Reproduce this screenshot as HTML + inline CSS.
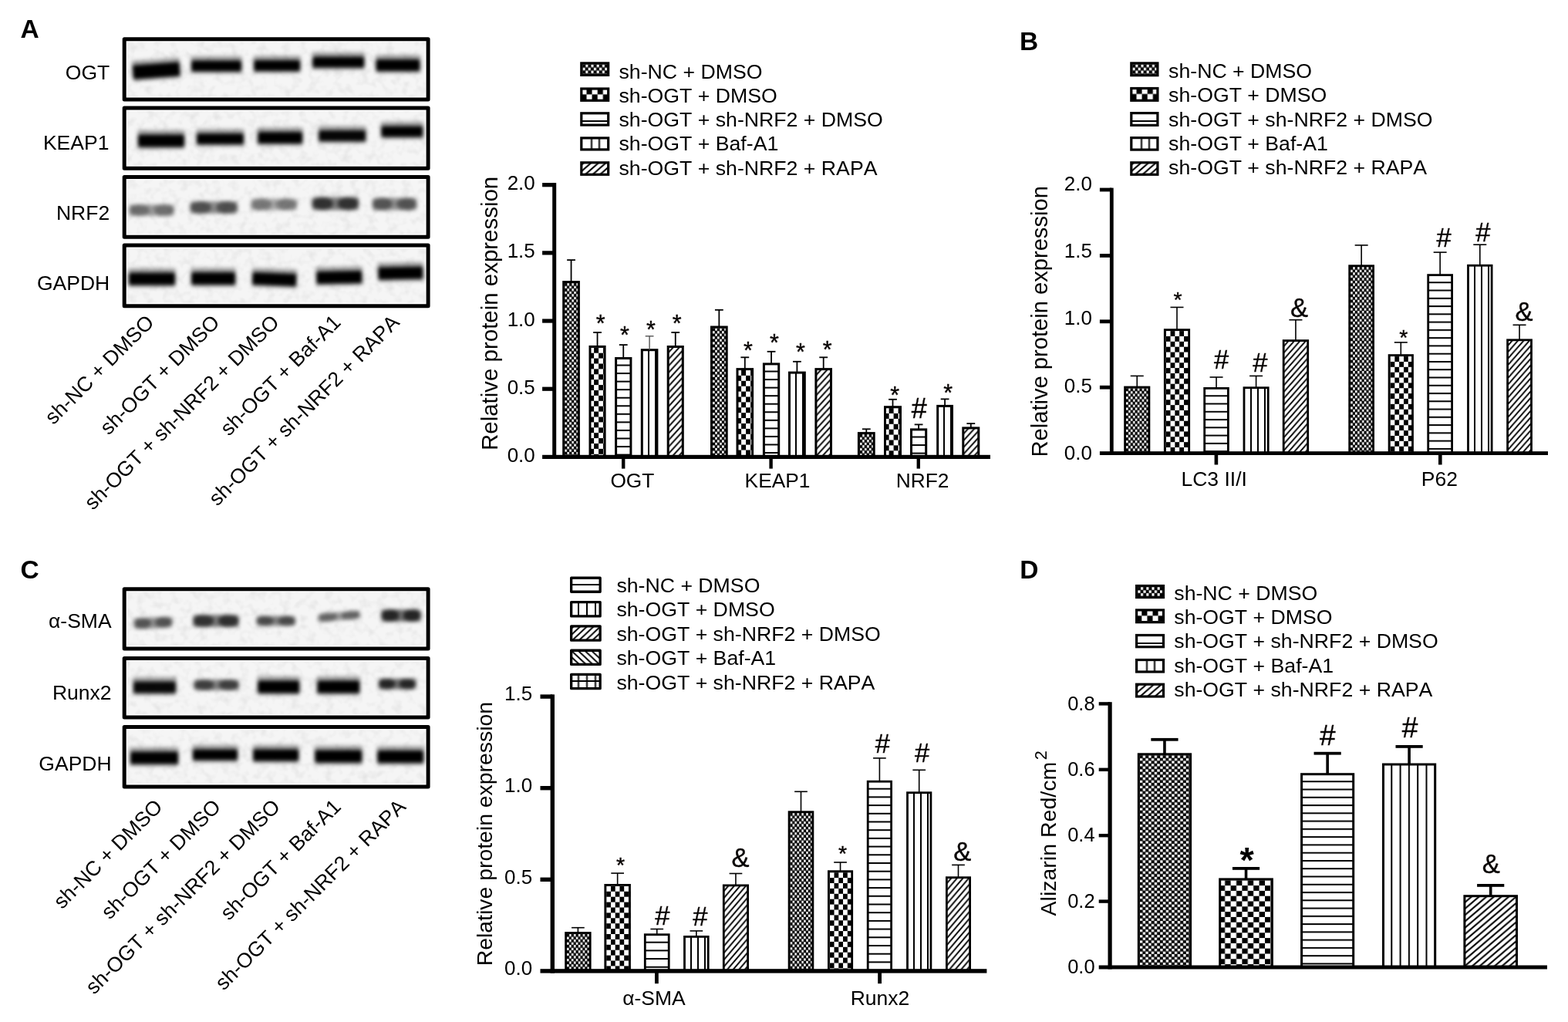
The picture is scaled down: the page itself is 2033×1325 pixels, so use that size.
<!DOCTYPE html>
<html lang="en"><head><meta charset="utf-8"><title>Figure</title>
<style>
html,body{margin:0;padding:0;background:#fff;}
body{width:2033px;height:1325px;overflow:hidden;}
svg{display:block;}
svg text{font-family:'Liberation Sans', Arial, Helvetica, sans-serif;fill:#000;font-kerning:none;}
</style></head><body>
<svg width="2033" height="1325" viewBox="0 0 2033 1325">
<defs>
<filter id="b1" x="-5%" y="-20%" width="110%" height="140%"><feGaussianBlur stdDeviation="2.8 2.6"/></filter>
<filter id="nz" x="0" y="0" width="100%" height="100%"><feTurbulence type="fractalNoise" baseFrequency="0.09" numOctaves="2" seed="7" result="t"/><feColorMatrix in="t" type="matrix" values="0 0 0 0 0  0 0 0 0 0  0 0 0 0 0  1.2 0 0 0 -0.52"/></filter>
<clipPath id="c1"><rect x="161.2" y="50.8" width="393.9" height="78.3"/></clipPath>
<clipPath id="c2"><rect x="161.2" y="140.1" width="393.9" height="78.2"/></clipPath>
<clipPath id="c3"><rect x="161.2" y="229.4" width="393.9" height="77.8"/></clipPath>
<clipPath id="c4"><rect x="161.2" y="318.1" width="393.9" height="78.6"/></clipPath>
<clipPath id="c5"><rect x="161.2" y="763.8" width="393.9" height="77.1"/></clipPath>
<clipPath id="c6"><rect x="161.2" y="853.4" width="393.9" height="76.5"/></clipPath>
<clipPath id="c7"><rect x="161.2" y="942.5" width="393.9" height="77.4"/></clipPath>
<pattern id="p8" patternUnits="userSpaceOnUse" width="6" height="7.06" patternTransform="translate(732.2 367.1)"><rect width="6" height="7.06" fill="#fff"/><rect x="-0.25" y="-0.25" width="3.5" height="4.03"/><rect x="2.75" y="3.28" width="3.5" height="4.03"/><rect x="5.75" y="-0.25" width="0.5" height="4.03"/><rect x="-0.25" y="6.81" width="3.5" height="0.5"/></pattern>
<pattern id="p9" patternUnits="userSpaceOnUse" width="12" height="13.8" patternTransform="translate(764.1 443.9)"><rect width="12" height="13.8" fill="#fff"/><rect x="0" y="0" width="6" height="6.9"/><rect x="6" y="6.9" width="6" height="6.9"/><rect x="12" y="0" width="0" height="6.9"/><rect x="0" y="13.8" width="6" height="0"/></pattern>
<pattern id="p10" patternUnits="userSpaceOnUse" width="8" height="10.55" patternTransform="translate(800 462)"><rect width="8" height="10.55" fill="#fff"/><rect x="0" y="0" width="8" height="2"/></pattern>
<pattern id="p11" patternUnits="userSpaceOnUse" width="9" height="8" patternTransform="translate(831 455)"><rect width="9" height="8" fill="#fff"/><rect x="0" y="0" width="2" height="8"/></pattern>
<pattern id="p12" patternUnits="userSpaceOnUse" width="8" height="8.75" patternTransform="translate(867.7 455.9)"><rect width="8" height="8.75" fill="#fff"/><path d="M-8,17.5 L16,-8.75 M-8,8.75 L8,-8.75 M0,17.5 L16,0" stroke="#000" stroke-width="1.9" fill="none"/></pattern>
<pattern id="p13" patternUnits="userSpaceOnUse" width="6" height="7.06" patternTransform="translate(924 425.5)"><rect width="6" height="7.06" fill="#fff"/><rect x="-0.25" y="-0.25" width="3.5" height="4.03"/><rect x="2.75" y="3.28" width="3.5" height="4.03"/><rect x="5.75" y="-0.25" width="0.5" height="4.03"/><rect x="-0.25" y="6.81" width="3.5" height="0.5"/></pattern>
<pattern id="p14" patternUnits="userSpaceOnUse" width="12" height="13.8" patternTransform="translate(955.1 473.1)"><rect width="12" height="13.8" fill="#fff"/><rect x="0" y="0" width="6" height="6.9"/><rect x="6" y="6.9" width="6" height="6.9"/><rect x="12" y="0" width="0" height="6.9"/><rect x="0" y="13.8" width="6" height="0"/></pattern>
<pattern id="p15" patternUnits="userSpaceOnUse" width="8" height="10.55" patternTransform="translate(992 470)"><rect width="8" height="10.55" fill="#fff"/><rect x="0" y="0" width="8" height="2"/></pattern>
<pattern id="p16" patternUnits="userSpaceOnUse" width="9" height="8" patternTransform="translate(1022 485)"><rect width="9" height="8" fill="#fff"/><rect x="0" y="0" width="2" height="8"/></pattern>
<pattern id="p17" patternUnits="userSpaceOnUse" width="8" height="8.75" patternTransform="translate(1059.4 485)"><rect width="8" height="8.75" fill="#fff"/><path d="M-8,17.5 L16,-8.75 M-8,8.75 L8,-8.75 M0,17.5 L16,0" stroke="#000" stroke-width="1.9" fill="none"/></pattern>
<pattern id="p18" patternUnits="userSpaceOnUse" width="6" height="7.06" patternTransform="translate(1114.9 563.1)"><rect width="6" height="7.06" fill="#fff"/><rect x="-0.25" y="-0.25" width="3.5" height="4.03"/><rect x="2.75" y="3.28" width="3.5" height="4.03"/><rect x="5.75" y="-0.25" width="0.5" height="4.03"/><rect x="-0.25" y="6.81" width="3.5" height="0.5"/></pattern>
<pattern id="p19" patternUnits="userSpaceOnUse" width="12" height="13.8" patternTransform="translate(1146.6 522.2)"><rect width="12" height="13.8" fill="#fff"/><rect x="0" y="0" width="6" height="6.9"/><rect x="6" y="6.9" width="6" height="6.9"/><rect x="12" y="0" width="0" height="6.9"/><rect x="0" y="13.8" width="6" height="0"/></pattern>
<pattern id="p20" patternUnits="userSpaceOnUse" width="8" height="10.55" patternTransform="translate(1183 555)"><rect width="8" height="10.55" fill="#fff"/><rect x="0" y="0" width="8" height="2"/></pattern>
<pattern id="p21" patternUnits="userSpaceOnUse" width="9" height="8" patternTransform="translate(1214 528)"><rect width="9" height="8" fill="#fff"/><rect x="0" y="0" width="2" height="8"/></pattern>
<pattern id="p22" patternUnits="userSpaceOnUse" width="8" height="8.75" patternTransform="translate(1250.3 561.3)"><rect width="8" height="8.75" fill="#fff"/><path d="M-8,17.5 L16,-8.75 M-8,8.75 L8,-8.75 M0,17.5 L16,0" stroke="#000" stroke-width="1.9" fill="none"/></pattern>
<pattern id="p23" patternUnits="userSpaceOnUse" width="7.2" height="8" patternTransform="translate(755.4 83.5)"><rect width="7.2" height="8" fill="#fff"/><rect x="-0.3" y="-0.3" width="4.2" height="4.6"/><rect x="3.3" y="3.7" width="4.2" height="4.6"/><rect x="6.9" y="-0.3" width="0.6" height="4.6"/><rect x="-0.3" y="7.7" width="4.2" height="0.6"/></pattern>
<pattern id="p24" patternUnits="userSpaceOnUse" width="14.2" height="14.2" patternTransform="translate(760.5 115.25)"><rect width="14.2" height="14.2" fill="#fff"/><rect x="0" y="0" width="7.1" height="7.1"/><rect x="7.1" y="7.1" width="7.1" height="7.1"/><rect x="14.2" y="0" width="0" height="7.1"/><rect x="0" y="14.2" width="7.1" height="0"/></pattern>
<pattern id="p25" patternUnits="userSpaceOnUse" width="8" height="14" patternTransform="translate(755 156)"><rect width="8" height="14" fill="#fff"/><rect x="0" y="0" width="8" height="2"/></pattern>
<pattern id="p26" patternUnits="userSpaceOnUse" width="60" height="10" patternTransform="translate(752.5 180)"><rect width="60" height="10" fill="#fff"/><rect x="13.5" y="0" width="2" height="10"/><rect x="23.5" y="0" width="2" height="10"/></pattern>
<pattern id="p27" patternUnits="userSpaceOnUse" width="9.6" height="8.4" patternTransform="translate(755.4 212.4)"><rect width="9.6" height="8.4" fill="#fff"/><path d="M-9.6,16.8 L19.2,-8.4 M-9.6,8.4 L9.6,-8.4 M0,16.8 L19.2,0" stroke="#000" stroke-width="2" fill="none"/></pattern>
<pattern id="p28" patternUnits="userSpaceOnUse" width="5.86" height="7.1" patternTransform="translate(1460 503.4)"><rect width="5.86" height="7.1" fill="#fff"/><rect x="-0.25" y="-0.25" width="3.43" height="4.05"/><rect x="2.68" y="3.3" width="3.43" height="4.05"/><rect x="5.61" y="-0.25" width="0.5" height="4.05"/><rect x="-0.25" y="6.85" width="3.43" height="0.5"/></pattern>
<pattern id="p29" patternUnits="userSpaceOnUse" width="11.66" height="13.72" patternTransform="translate(1511.7 422.24)"><rect width="11.66" height="13.72" fill="#fff"/><rect x="0" y="0" width="5.83" height="6.86"/><rect x="5.83" y="6.86" width="5.83" height="6.86"/><rect x="11.66" y="0" width="0" height="6.86"/><rect x="0" y="13.72" width="5.83" height="0"/></pattern>
<pattern id="p30" patternUnits="userSpaceOnUse" width="8" height="10.27" patternTransform="translate(1563 502)"><rect width="8" height="10.27" fill="#fff"/><rect x="0" y="0" width="8" height="2"/></pattern>
<pattern id="p31" patternUnits="userSpaceOnUse" width="9" height="8" patternTransform="translate(1612 504)"><rect width="9" height="8" fill="#fff"/><rect x="0" y="0" width="2" height="8"/></pattern>
<pattern id="p32" patternUnits="userSpaceOnUse" width="7.45" height="8.45" patternTransform="translate(1665.6 447.7)"><rect width="7.45" height="8.45" fill="#fff"/><path d="M-7.45,16.9 L14.9,-8.45 M-7.45,8.45 L7.45,-8.45 M0,16.9 L14.9,0" stroke="#000" stroke-width="1.9" fill="none"/></pattern>
<pattern id="p33" patternUnits="userSpaceOnUse" width="5.86" height="7.1" patternTransform="translate(1751.1 346.1)"><rect width="5.86" height="7.1" fill="#fff"/><rect x="-0.25" y="-0.25" width="3.43" height="4.05"/><rect x="2.68" y="3.3" width="3.43" height="4.05"/><rect x="5.61" y="-0.25" width="0.5" height="4.05"/><rect x="-0.25" y="6.85" width="3.43" height="0.5"/></pattern>
<pattern id="p34" patternUnits="userSpaceOnUse" width="11.66" height="13.72" patternTransform="translate(1802.5 455.24)"><rect width="11.66" height="13.72" fill="#fff"/><rect x="0" y="0" width="5.83" height="6.86"/><rect x="5.83" y="6.86" width="5.83" height="6.86"/><rect x="11.66" y="0" width="0" height="6.86"/><rect x="0" y="13.72" width="5.83" height="0"/></pattern>
<pattern id="p35" patternUnits="userSpaceOnUse" width="8" height="10.27" patternTransform="translate(1853 355)"><rect width="8" height="10.27" fill="#fff"/><rect x="0" y="0" width="8" height="2"/></pattern>
<pattern id="p36" patternUnits="userSpaceOnUse" width="9" height="8" patternTransform="translate(1902 346)"><rect width="9" height="8" fill="#fff"/><rect x="0" y="0" width="2" height="8"/></pattern>
<pattern id="p37" patternUnits="userSpaceOnUse" width="7.45" height="8.45" patternTransform="translate(1956 446.9)"><rect width="7.45" height="8.45" fill="#fff"/><path d="M-7.45,16.9 L14.9,-8.45 M-7.45,8.45 L7.45,-8.45 M0,16.9 L14.9,0" stroke="#000" stroke-width="1.9" fill="none"/></pattern>
<pattern id="p38" patternUnits="userSpaceOnUse" width="7.2" height="8" patternTransform="translate(1468.4 83.5)"><rect width="7.2" height="8" fill="#fff"/><rect x="-0.3" y="-0.3" width="4.2" height="4.6"/><rect x="3.3" y="3.7" width="4.2" height="4.6"/><rect x="6.9" y="-0.3" width="0.6" height="4.6"/><rect x="-0.3" y="7.7" width="4.2" height="0.6"/></pattern>
<pattern id="p39" patternUnits="userSpaceOnUse" width="14.2" height="14.2" patternTransform="translate(1473.5 114.75)"><rect width="14.2" height="14.2" fill="#fff"/><rect x="0" y="0" width="7.1" height="7.1"/><rect x="7.1" y="7.1" width="7.1" height="7.1"/><rect x="14.2" y="0" width="0" height="7.1"/><rect x="0" y="14.2" width="7.1" height="0"/></pattern>
<pattern id="p40" patternUnits="userSpaceOnUse" width="8" height="14" patternTransform="translate(1468 156)"><rect width="8" height="14" fill="#fff"/><rect x="0" y="0" width="8" height="2"/></pattern>
<pattern id="p41" patternUnits="userSpaceOnUse" width="60" height="10" patternTransform="translate(1465.5 180)"><rect width="60" height="10" fill="#fff"/><rect x="13.5" y="0" width="2" height="10"/><rect x="23.5" y="0" width="2" height="10"/></pattern>
<pattern id="p42" patternUnits="userSpaceOnUse" width="9.6" height="8.4" patternTransform="translate(1468.4 212.4)"><rect width="9.6" height="8.4" fill="#fff"/><path d="M-9.6,16.8 L19.2,-8.4 M-9.6,8.4 L9.6,-8.4 M0,16.8 L19.2,0" stroke="#000" stroke-width="2" fill="none"/></pattern>
<pattern id="p43" patternUnits="userSpaceOnUse" width="5.86" height="7.1" patternTransform="translate(735 1210.9)"><rect width="5.86" height="7.1" fill="#fff"/><rect x="-0.25" y="-0.25" width="3.43" height="4.05"/><rect x="2.68" y="3.3" width="3.43" height="4.05"/><rect x="5.61" y="-0.25" width="0.5" height="4.05"/><rect x="-0.25" y="6.85" width="3.43" height="0.5"/></pattern>
<pattern id="p44" patternUnits="userSpaceOnUse" width="11.5" height="13.8" patternTransform="translate(786.2 1142)"><rect width="11.5" height="13.8" fill="#fff"/><rect x="0" y="0" width="5.75" height="6.9"/><rect x="5.75" y="6.9" width="5.75" height="6.9"/><rect x="11.5" y="0" width="0" height="6.9"/><rect x="0" y="13.8" width="5.75" height="0"/></pattern>
<pattern id="p45" patternUnits="userSpaceOnUse" width="8" height="10.7" patternTransform="translate(838 1210)"><rect width="8" height="10.7" fill="#fff"/><rect x="0" y="0" width="8" height="2"/></pattern>
<pattern id="p46" patternUnits="userSpaceOnUse" width="9" height="8" patternTransform="translate(886 1216)"><rect width="9" height="8" fill="#fff"/><rect x="0" y="0" width="2" height="8"/></pattern>
<pattern id="p47" patternUnits="userSpaceOnUse" width="7.6" height="8.9" patternTransform="translate(939.7 1154)"><rect width="7.6" height="8.9" fill="#fff"/><path d="M-7.6,17.8 L15.2,-8.9 M-7.6,8.9 L7.6,-8.9 M0,17.8 L15.2,0" stroke="#000" stroke-width="1.9" fill="none"/></pattern>
<pattern id="p48" patternUnits="userSpaceOnUse" width="5.86" height="7.1" patternTransform="translate(1024.5 1054.1)"><rect width="5.86" height="7.1" fill="#fff"/><rect x="-0.25" y="-0.25" width="3.43" height="4.05"/><rect x="2.68" y="3.3" width="3.43" height="4.05"/><rect x="5.61" y="-0.25" width="0.5" height="4.05"/><rect x="-0.25" y="6.85" width="3.43" height="0.5"/></pattern>
<pattern id="p49" patternUnits="userSpaceOnUse" width="11.5" height="13.8" patternTransform="translate(1075.8 1124.3)"><rect width="11.5" height="13.8" fill="#fff"/><rect x="0" y="0" width="5.75" height="6.9"/><rect x="5.75" y="6.9" width="5.75" height="6.9"/><rect x="11.5" y="0" width="0" height="6.9"/><rect x="0" y="13.8" width="5.75" height="0"/></pattern>
<pattern id="p50" patternUnits="userSpaceOnUse" width="8" height="10.7" patternTransform="translate(1127 1011)"><rect width="8" height="10.7" fill="#fff"/><rect x="0" y="0" width="8" height="2"/></pattern>
<pattern id="p51" patternUnits="userSpaceOnUse" width="9" height="8" patternTransform="translate(1175 1029)"><rect width="9" height="8" fill="#fff"/><rect x="0" y="0" width="2" height="8"/></pattern>
<pattern id="p52" patternUnits="userSpaceOnUse" width="7.6" height="8.9" patternTransform="translate(1228.8 1143.8)"><rect width="7.6" height="8.9" fill="#fff"/><path d="M-7.6,17.8 L15.2,-8.9 M-7.6,8.9 L7.6,-8.9 M0,17.8 L15.2,0" stroke="#000" stroke-width="1.9" fill="none"/></pattern>
<pattern id="p53" patternUnits="userSpaceOnUse" width="8" height="16" patternTransform="translate(742 757)"><rect width="8" height="16" fill="#fff"/><rect x="0" y="0" width="8" height="2"/></pattern>
<pattern id="p54" patternUnits="userSpaceOnUse" width="11" height="8" patternTransform="translate(749 782)"><rect width="11" height="8" fill="#fff"/><rect x="0" y="0" width="2" height="8"/></pattern>
<pattern id="p55" patternUnits="userSpaceOnUse" width="8.7" height="8.2" patternTransform="translate(742.3 813.5)"><rect width="8.7" height="8.2" fill="#fff"/><path d="M-8.7,16.4 L17.4,-8.2 M-8.7,8.2 L8.7,-8.2 M0,16.4 L17.4,0" stroke="#000" stroke-width="1.9" fill="none"/></pattern>
<pattern id="p56" patternUnits="userSpaceOnUse" width="8.7" height="8.2" patternTransform="translate(742.3 844.9)"><rect width="8.7" height="8.2" fill="#fff"/><path d="M-8.7,-8.2 L17.4,16.4 M0,-8.2 L17.4,8.2 M-8.7,0 L8.7,16.4" stroke="#000" stroke-width="1.9" fill="none"/></pattern>
<pattern id="p57" patternUnits="userSpaceOnUse" width="11" height="16" patternTransform="translate(744.5 875)"><rect width="11" height="16" fill="#fff"/><rect x="0" y="7" width="11" height="2"/><rect x="4.5" y="0" width="2" height="16"/></pattern>
<pattern id="p58" patternUnits="userSpaceOnUse" width="7.5" height="7.16" patternTransform="translate(1477.8 979.3)"><rect width="7.5" height="7.16" fill="#fff"/><rect x="-0.25" y="-0.25" width="4.25" height="4.08"/><rect x="3.5" y="3.33" width="4.25" height="4.08"/><rect x="7.25" y="-0.25" width="0.5" height="4.08"/><rect x="-0.25" y="6.91" width="4.25" height="0.5"/></pattern>
<pattern id="p59" patternUnits="userSpaceOnUse" width="14.8" height="13.6" patternTransform="translate(1580.8 1134.5)"><rect width="14.8" height="13.6" fill="#fff"/><rect x="0" y="0" width="7.4" height="6.8"/><rect x="7.4" y="6.8" width="7.4" height="6.8"/><rect x="14.8" y="0" width="0" height="6.8"/><rect x="0" y="13.6" width="7.4" height="0"/></pattern>
<pattern id="p60" patternUnits="userSpaceOnUse" width="8" height="10.27" patternTransform="translate(1689 1002)"><rect width="8" height="10.27" fill="#fff"/><rect x="0" y="0" width="8" height="2"/></pattern>
<pattern id="p61" patternUnits="userSpaceOnUse" width="11.3" height="8" patternTransform="translate(1792 992)"><rect width="11.3" height="8" fill="#fff"/><rect x="0" y="0" width="2" height="8"/></pattern>
<pattern id="p62" patternUnits="userSpaceOnUse" width="9.65" height="8.25" patternTransform="translate(1900.4 1169)"><rect width="9.65" height="8.25" fill="#fff"/><path d="M-9.65,16.5 L19.3,-8.25 M-9.65,8.25 L9.65,-8.25 M0,16.5 L19.3,0" stroke="#000" stroke-width="2.1" fill="none"/></pattern>
<pattern id="p63" patternUnits="userSpaceOnUse" width="7.2" height="8" patternTransform="translate(1475.2 761.1)"><rect width="7.2" height="8" fill="#fff"/><rect x="-0.3" y="-0.3" width="4.2" height="4.6"/><rect x="3.3" y="3.7" width="4.2" height="4.6"/><rect x="6.9" y="-0.3" width="0.6" height="4.6"/><rect x="-0.3" y="7.7" width="4.2" height="0.6"/></pattern>
<pattern id="p64" patternUnits="userSpaceOnUse" width="14.2" height="14.2" patternTransform="translate(1480.3 791.15)"><rect width="14.2" height="14.2" fill="#fff"/><rect x="0" y="0" width="7.1" height="7.1"/><rect x="7.1" y="7.1" width="7.1" height="7.1"/><rect x="14.2" y="0" width="0" height="7.1"/><rect x="0" y="14.2" width="7.1" height="0"/></pattern>
<pattern id="p65" patternUnits="userSpaceOnUse" width="8" height="14" patternTransform="translate(1475 833)"><rect width="8" height="14" fill="#fff"/><rect x="0" y="0" width="8" height="2"/></pattern>
<pattern id="p66" patternUnits="userSpaceOnUse" width="60" height="10" patternTransform="translate(1472.5 857)"><rect width="60" height="10" fill="#fff"/><rect x="13.5" y="0" width="2" height="10"/><rect x="23.5" y="0" width="2" height="10"/></pattern>
<pattern id="p67" patternUnits="userSpaceOnUse" width="9.6" height="8.4" patternTransform="translate(1475.2 888.8)"><rect width="9.6" height="8.4" fill="#fff"/><path d="M-9.6,16.8 L19.2,-8.4 M-9.6,8.4 L9.6,-8.4 M0,16.8 L19.2,0" stroke="#000" stroke-width="2" fill="none"/></pattern>
</defs>
<rect width="2033" height="1325" fill="#fff"/>
<g clip-path="url(#c1)">
<rect x="165.2" y="54.8" width="385.9" height="70.3" fill="#f5f5f5"/>
<rect x="165.2" y="54.8" width="385.9" height="70.3" fill="#808080" opacity="0.11" filter="url(#nz)"/>
<g filter="url(#b1)">
<g transform="rotate(-4 202.7 91.5)">
<rect x="171.2" y="76.5" width="63" height="27" rx="3" fill="#000" opacity="0.32"/>
<rect x="172.2" y="82.5" width="61" height="18" rx="3" fill="#000" opacity="1"/>
</g>
<g>
<rect x="247.1" y="72.5" width="67" height="23" rx="3" fill="#000" opacity="0.32"/>
<rect x="248.1" y="78.5" width="65" height="14" rx="3" fill="#000" opacity="1"/>
</g>
<g>
<rect x="328.2" y="72" width="62" height="23" rx="3" fill="#000" opacity="0.32"/>
<rect x="329.2" y="78" width="60" height="14" rx="3" fill="#000" opacity="1"/>
</g>
<g>
<rect x="404.3" y="67.5" width="69" height="23" rx="3" fill="#000" opacity="0.32"/>
<rect x="405.3" y="73.5" width="67" height="14" rx="3" fill="#000" opacity="1"/>
</g>
<g>
<rect x="486.5" y="71" width="59" height="24" rx="3" fill="#000" opacity="0.32"/>
<rect x="487.5" y="77" width="57" height="15" rx="3" fill="#000" opacity="1"/>
</g>
</g>
</g>
<rect x="161.2" y="50.8" width="393.9" height="78.3" fill="none" stroke="#000" stroke-width="5" stroke-linejoin="round"/>
<g clip-path="url(#c2)">
<rect x="165.2" y="144.1" width="385.9" height="70.2" fill="#f5f5f5"/>
<rect x="165.2" y="144.1" width="385.9" height="70.2" fill="#808080" opacity="0.11" filter="url(#nz)"/>
<g filter="url(#b1)">
<g>
<rect x="178" y="168.5" width="62" height="25" rx="3" fill="#000" opacity="0.32"/>
<rect x="179" y="174.5" width="60" height="16" rx="3" fill="#000" opacity="1"/>
</g>
<g>
<rect x="254" y="167" width="63" height="23" rx="3" fill="#000" opacity="0.32"/>
<rect x="255" y="173" width="61" height="14" rx="3" fill="#000" opacity="1"/>
</g>
<g>
<rect x="333.2" y="165" width="60" height="24" rx="3" fill="#000" opacity="0.32"/>
<rect x="334.2" y="171" width="58" height="15" rx="3" fill="#000" opacity="1"/>
</g>
<g>
<rect x="412.2" y="163" width="63" height="23" rx="3" fill="#000" opacity="0.32"/>
<rect x="413.2" y="169" width="61" height="14" rx="3" fill="#000" opacity="0.97"/>
</g>
<g>
<rect x="493.3" y="157.6" width="56" height="23" rx="3" fill="#000" opacity="0.32"/>
<rect x="494.3" y="163.6" width="54" height="14" rx="3" fill="#000" opacity="1"/>
</g>
</g>
</g>
<rect x="161.2" y="140.1" width="393.9" height="78.2" fill="none" stroke="#000" stroke-width="5" stroke-linejoin="round"/>
<g clip-path="url(#c3)">
<rect x="165.2" y="233.4" width="385.9" height="69.8" fill="#f5f5f5"/>
<rect x="165.2" y="233.4" width="385.9" height="69.8" fill="#808080" opacity="0.11" filter="url(#nz)"/>
<g filter="url(#b1)">
<g>
<rect x="167" y="265" width="59" height="15" rx="4" fill="#000" opacity="0.34"/>
<ellipse cx="180.57" cy="272.5" rx="12.98" ry="7.5" fill="#000" opacity="0.32"/>
<ellipse cx="212.43" cy="272.5" rx="12.98" ry="7.5" fill="#000" opacity="0.32"/>
</g>
<g>
<rect x="246.2" y="261" width="62" height="16" rx="4" fill="#000" opacity="0.42"/>
<ellipse cx="260.46" cy="269" rx="13.64" ry="8" fill="#000" opacity="0.45"/>
<ellipse cx="293.94" cy="269" rx="13.64" ry="8" fill="#000" opacity="0.45"/>
</g>
<g>
<rect x="325.2" y="257.5" width="60" height="15" rx="4" fill="#000" opacity="0.32"/>
<ellipse cx="339" cy="265" rx="13.2" ry="7.5" fill="#000" opacity="0.29"/>
<ellipse cx="371.4" cy="265" rx="13.2" ry="7.5" fill="#000" opacity="0.29"/>
</g>
<g>
<rect x="404.3" y="255.5" width="61" height="17" rx="4" fill="#000" opacity="0.5"/>
<ellipse cx="418.33" cy="264" rx="13.42" ry="8.5" fill="#000" opacity="0.6"/>
<ellipse cx="451.27" cy="264" rx="13.42" ry="8.5" fill="#000" opacity="0.6"/>
</g>
<g>
<rect x="482.5" y="256.5" width="58" height="16" rx="4" fill="#000" opacity="0.41"/>
<ellipse cx="495.84" cy="264.5" rx="12.76" ry="8" fill="#000" opacity="0.42"/>
<ellipse cx="527.16" cy="264.5" rx="12.76" ry="8" fill="#000" opacity="0.42"/>
</g>
</g>
</g>
<rect x="161.2" y="229.4" width="393.9" height="77.8" fill="none" stroke="#000" stroke-width="5" stroke-linejoin="round"/>
<g clip-path="url(#c4)">
<rect x="165.2" y="322.1" width="385.9" height="70.6" fill="#f5f5f5"/>
<rect x="165.2" y="322.1" width="385.9" height="70.6" fill="#808080" opacity="0.11" filter="url(#nz)"/>
<g filter="url(#b1)">
<g>
<rect x="166" y="347.5" width="62" height="25" rx="3" fill="#000" opacity="0.32"/>
<rect x="167" y="353.5" width="60" height="16" rx="3" fill="#000" opacity="1"/>
</g>
<g>
<rect x="247.1" y="347" width="59" height="25" rx="3" fill="#000" opacity="0.32"/>
<rect x="248.1" y="353" width="57" height="16" rx="3" fill="#000" opacity="1"/>
</g>
<g transform="rotate(2 355.7 362)">
<rect x="326.2" y="348" width="59" height="25" rx="3" fill="#000" opacity="0.32"/>
<rect x="327.2" y="354" width="57" height="16" rx="3" fill="#000" opacity="1"/>
</g>
<g transform="rotate(-1 439.8 359.5)">
<rect x="409.3" y="345.5" width="61" height="25" rx="3" fill="#000" opacity="0.32"/>
<rect x="410.3" y="351.5" width="59" height="16" rx="3" fill="#000" opacity="1"/>
</g>
<g transform="rotate(-1 519.4 354)">
<rect x="489.4" y="340" width="60" height="25" rx="3" fill="#000" opacity="0.32"/>
<rect x="490.4" y="346" width="58" height="16" rx="3" fill="#000" opacity="1"/>
</g>
</g>
</g>
<rect x="161.2" y="318.1" width="393.9" height="78.6" fill="none" stroke="#000" stroke-width="5" stroke-linejoin="round"/>
<text x="142.2" y="102.6" font-size="26.5" text-anchor="end">OGT</text>
<text x="141.4" y="194" font-size="26.5" text-anchor="end">KEAP1</text>
<text x="142.2" y="284.8" font-size="26.5" text-anchor="end">NRF2</text>
<text x="142.2" y="375.5" font-size="26.5" text-anchor="end">GAPDH</text>
<text x="26.4" y="49" font-size="33.5" text-anchor="start" font-weight="bold">A</text>
<text x="1321.9" y="64.9" font-size="33.5" text-anchor="start" font-weight="bold">B</text>
<text x="26.4" y="749.8" font-size="33.5" text-anchor="start" font-weight="bold">C</text>
<text x="1322.2" y="749.8" font-size="33.5" text-anchor="start" font-weight="bold">D</text>
<text x="0" y="0" font-size="26.75" text-anchor="end" transform="translate(201.1 419.5) rotate(-45)">sh-NC + DMSO</text>
<text x="0" y="0" font-size="26.75" text-anchor="end" transform="translate(286.3 419.5) rotate(-45)">sh-OGT + DMSO</text>
<text x="0" y="0" font-size="26.75" text-anchor="end" transform="translate(363.4 419.5) rotate(-45)">sh-OGT + sh-NRF2 + DMSO</text>
<text x="0" y="0" font-size="26.75" text-anchor="end" transform="translate(443.4 419.5) rotate(-45)">sh-OGT + Baf-A1</text>
<text x="0" y="0" font-size="26.75" text-anchor="end" transform="translate(519.4 419.5) rotate(-45)">sh-OGT + sh-NRF2 + RAPA</text>
<g clip-path="url(#c5)">
<rect x="165.2" y="767.8" width="385.9" height="69.1" fill="#f5f5f5"/>
<rect x="165.2" y="767.8" width="385.9" height="69.1" fill="#808080" opacity="0.11" filter="url(#nz)"/>
<g filter="url(#b1)">
<g transform="rotate(-3 198.5 807.5)">
<rect x="173.5" y="800.5" width="50" height="14" rx="4" fill="#000" opacity="0.41"/>
<ellipse cx="185" cy="807.5" rx="11" ry="7" fill="#000" opacity="0.42"/>
<ellipse cx="212" cy="807.5" rx="11" ry="7" fill="#000" opacity="0.42"/>
</g>
<g>
<rect x="250" y="797" width="60" height="16" rx="4" fill="#000" opacity="0.5"/>
<ellipse cx="263.8" cy="805" rx="13.2" ry="8" fill="#000" opacity="0.6"/>
<ellipse cx="296.2" cy="805" rx="13.2" ry="8" fill="#000" opacity="0.6"/>
</g>
<g>
<rect x="332.2" y="798.5" width="51" height="13" rx="4" fill="#000" opacity="0.43"/>
<ellipse cx="343.93" cy="805" rx="11.22" ry="6.5" fill="#000" opacity="0.47"/>
<ellipse cx="371.47" cy="805" rx="11.22" ry="6.5" fill="#000" opacity="0.47"/>
</g>
<g transform="rotate(-5 439.8 799)">
<rect x="412.3" y="793.5" width="55" height="11" rx="4" fill="#000" opacity="0.37"/>
<ellipse cx="424.95" cy="799" rx="12.1" ry="5.5" fill="#000" opacity="0.36"/>
<ellipse cx="454.65" cy="799" rx="12.1" ry="5.5" fill="#000" opacity="0.36"/>
</g>
<g>
<rect x="494" y="790" width="52" height="16" rx="4" fill="#000" opacity="0.53"/>
<ellipse cx="505.96" cy="798" rx="11.44" ry="8" fill="#000" opacity="0.68"/>
<ellipse cx="534.04" cy="798" rx="11.44" ry="8" fill="#000" opacity="0.68"/>
</g>
</g>
</g>
<rect x="161.2" y="763.8" width="393.9" height="77.1" fill="none" stroke="#000" stroke-width="5" stroke-linejoin="round"/>
<g clip-path="url(#c6)">
<rect x="165.2" y="857.4" width="385.9" height="68.5" fill="#f5f5f5"/>
<rect x="165.2" y="857.4" width="385.9" height="68.5" fill="#808080" opacity="0.11" filter="url(#nz)"/>
<g filter="url(#b1)">
<g>
<rect x="172" y="877.5" width="57" height="24" rx="3" fill="#000" opacity="0.32"/>
<rect x="173" y="883.5" width="55" height="15" rx="3" fill="#000" opacity="0.95"/>
</g>
<g>
<rect x="251.1" y="881" width="59" height="14" rx="4" fill="#000" opacity="0.46"/>
<ellipse cx="264.67" cy="888" rx="12.98" ry="7" fill="#000" opacity="0.53"/>
<ellipse cx="296.53" cy="888" rx="12.98" ry="7" fill="#000" opacity="0.53"/>
</g>
<g>
<rect x="333.2" y="876.5" width="56" height="25" rx="3" fill="#000" opacity="0.32"/>
<rect x="334.2" y="882.5" width="54" height="16" rx="3" fill="#000" opacity="1"/>
</g>
<g>
<rect x="410.3" y="876.5" width="57" height="25" rx="3" fill="#000" opacity="0.32"/>
<rect x="411.3" y="882.5" width="55" height="16" rx="3" fill="#000" opacity="1"/>
</g>
<g>
<rect x="490.5" y="879.7" width="49" height="14" rx="4" fill="#000" opacity="0.53"/>
<ellipse cx="501.77" cy="886.7" rx="10.78" ry="7" fill="#000" opacity="0.68"/>
<ellipse cx="528.23" cy="886.7" rx="10.78" ry="7" fill="#000" opacity="0.68"/>
</g>
</g>
</g>
<rect x="161.2" y="853.4" width="393.9" height="76.5" fill="none" stroke="#000" stroke-width="5" stroke-linejoin="round"/>
<g clip-path="url(#c7)">
<rect x="165.2" y="946.5" width="385.9" height="69.4" fill="#f5f5f5"/>
<rect x="165.2" y="946.5" width="385.9" height="69.4" fill="#808080" opacity="0.11" filter="url(#nz)"/>
<g filter="url(#b1)">
<g>
<rect x="168" y="968.5" width="64" height="25" rx="3" fill="#000" opacity="0.32"/>
<rect x="169" y="974.5" width="62" height="16" rx="3" fill="#000" opacity="1"/>
</g>
<g>
<rect x="249" y="965.5" width="60" height="23" rx="3" fill="#000" opacity="0.32"/>
<rect x="250" y="971.5" width="58" height="14" rx="3" fill="#000" opacity="1"/>
</g>
<g>
<rect x="327.2" y="965.5" width="61" height="24" rx="3" fill="#000" opacity="0.32"/>
<rect x="328.2" y="971.5" width="59" height="15" rx="3" fill="#000" opacity="1"/>
</g>
<g>
<rect x="407.3" y="966.5" width="63" height="25" rx="3" fill="#000" opacity="0.32"/>
<rect x="408.3" y="972.5" width="61" height="16" rx="3" fill="#000" opacity="1"/>
</g>
<g>
<rect x="488.3" y="967" width="62" height="25" rx="3" fill="#000" opacity="0.32"/>
<rect x="489.3" y="973" width="60" height="16" rx="3" fill="#000" opacity="1"/>
</g>
</g>
</g>
<rect x="161.2" y="942.5" width="393.9" height="77.4" fill="none" stroke="#000" stroke-width="5" stroke-linejoin="round"/>
<text x="144.6" y="814" font-size="26.5" text-anchor="end">α-SMA</text>
<text x="144.6" y="906.8" font-size="26.5" text-anchor="end">Runx2</text>
<text x="144.6" y="998.8" font-size="26.5" text-anchor="end">GAPDH</text>
<text x="0" y="0" font-size="26.75" text-anchor="end" transform="translate(212.3 1047.5) rotate(-45)">sh-NC + DMSO</text>
<text x="0" y="0" font-size="26.75" text-anchor="end" transform="translate(287.8 1047.5) rotate(-45)">sh-OGT + DMSO</text>
<text x="0" y="0" font-size="26.75" text-anchor="end" transform="translate(364.8 1047.5) rotate(-45)">sh-OGT + sh-NRF2 + DMSO</text>
<text x="0" y="0" font-size="26.75" text-anchor="end" transform="translate(443.5 1047.5) rotate(-45)">sh-OGT + Baf-A1</text>
<text x="0" y="0" font-size="26.75" text-anchor="end" transform="translate(527.5 1047.5) rotate(-45)">sh-OGT + sh-NRF2 + RAPA</text>
<rect x="730.7" y="365.6" width="19.7" height="226.8" fill="url(#p8)" stroke="#000" stroke-width="3"/>
<rect x="739.65" y="337.1" width="1.8" height="28.5" fill="#000"/>
<rect x="735.15" y="336.2" width="10.8" height="1.8" fill="#000"/>
<rect x="765" y="449.4" width="19.1" height="143" fill="url(#p9)" stroke="#000" stroke-width="3"/>
<rect x="773.65" y="431" width="1.8" height="18.4" fill="#000"/>
<rect x="769.15" y="430.1" width="10.8" height="1.8" fill="#000"/>
<rect x="798.6" y="464.5" width="19.3" height="127.9" fill="url(#p10)" stroke="#000" stroke-width="3"/>
<rect x="807.35" y="447.1" width="1.8" height="17.4" fill="#000"/>
<rect x="802.85" y="446.2" width="10.8" height="1.8" fill="#000"/>
<rect x="832.3" y="453.7" width="19.6" height="138.7" fill="url(#p11)" stroke="#000" stroke-width="3"/>
<rect x="841.4" y="435.8" width="1.4" height="17.9" fill="#555"/>
<rect x="836.7" y="435.1" width="10.8" height="1.4" fill="#555"/>
<rect x="866.2" y="449.5" width="19.1" height="142.9" fill="url(#p12)" stroke="#000" stroke-width="3"/>
<rect x="874.85" y="431" width="1.8" height="18.5" fill="#000"/>
<rect x="870.35" y="430.1" width="10.8" height="1.8" fill="#000"/>
<rect x="922.5" y="424" width="19.7" height="168.4" fill="url(#p13)" stroke="#000" stroke-width="3"/>
<rect x="931.45" y="401.8" width="1.8" height="22.2" fill="#000"/>
<rect x="926.95" y="400.9" width="10.8" height="1.8" fill="#000"/>
<rect x="956" y="478.6" width="19.6" height="113.8" fill="url(#p14)" stroke="#000" stroke-width="3"/>
<rect x="964.9" y="463.3" width="1.8" height="15.3" fill="#000"/>
<rect x="960.4" y="462.4" width="10.8" height="1.8" fill="#000"/>
<rect x="990.4" y="471.9" width="19.3" height="120.5" fill="url(#p15)" stroke="#000" stroke-width="3"/>
<rect x="999.15" y="455.8" width="1.8" height="16.1" fill="#000"/>
<rect x="994.65" y="454.9" width="10.8" height="1.8" fill="#000"/>
<rect x="1023.5" y="483.1" width="19.8" height="109.3" fill="url(#p16)" stroke="#000" stroke-width="3"/>
<rect x="1032.5" y="468.8" width="1.8" height="14.3" fill="#000"/>
<rect x="1028" y="467.9" width="10.8" height="1.8" fill="#000"/>
<rect x="1057.9" y="478.6" width="19.6" height="113.8" fill="url(#p17)" stroke="#000" stroke-width="3"/>
<rect x="1066.8" y="463.3" width="1.8" height="15.3" fill="#000"/>
<rect x="1062.3" y="462.4" width="10.8" height="1.8" fill="#000"/>
<rect x="1113.4" y="561.6" width="19.8" height="30.8" fill="url(#p18)" stroke="#000" stroke-width="3"/>
<rect x="1122.4" y="556.3" width="1.8" height="5.3" fill="#000"/>
<rect x="1117.9" y="555.4" width="10.8" height="1.8" fill="#000"/>
<rect x="1147.5" y="527.7" width="20" height="64.7" fill="url(#p19)" stroke="#000" stroke-width="3"/>
<rect x="1156.6" y="517.8" width="1.8" height="9.9" fill="#000"/>
<rect x="1152.1" y="516.9" width="10.8" height="1.8" fill="#000"/>
<rect x="1181.5" y="556.9" width="19.2" height="35.5" fill="url(#p20)" stroke="#000" stroke-width="3"/>
<rect x="1190.2" y="550.4" width="1.8" height="6.5" fill="#000"/>
<rect x="1185.7" y="549.5" width="10.8" height="1.8" fill="#000"/>
<rect x="1215.7" y="526.4" width="18.8" height="66" fill="url(#p21)" stroke="#000" stroke-width="3"/>
<rect x="1224.2" y="517.4" width="1.8" height="9" fill="#000"/>
<rect x="1219.7" y="516.5" width="10.8" height="1.8" fill="#000"/>
<rect x="1248.8" y="554.9" width="20" height="37.5" fill="url(#p22)" stroke="#000" stroke-width="3"/>
<rect x="1257.9" y="549.1" width="1.8" height="5.8" fill="#000"/>
<rect x="1253.4" y="548.2" width="10.8" height="1.8" fill="#000"/>
<rect x="716.2" y="237.1" width="5" height="357.9" fill="#000"/>
<rect x="703.1" y="589.8" width="580.9" height="5.2" fill="#000"/>
<text x="693.8" y="599" font-size="26" text-anchor="end">0.0</text>
<rect x="703.1" y="501.62" width="15.6" height="5.2" fill="#000"/>
<text x="693.8" y="510.82" font-size="26" text-anchor="end">0.5</text>
<rect x="703.1" y="413.45" width="15.6" height="5.2" fill="#000"/>
<text x="693.8" y="422.65" font-size="26" text-anchor="end">1.0</text>
<rect x="703.1" y="325.27" width="15.6" height="5.2" fill="#000"/>
<text x="693.8" y="334.48" font-size="26" text-anchor="end">1.5</text>
<rect x="703.1" y="237.1" width="15.6" height="5.2" fill="#000"/>
<text x="693.8" y="246.3" font-size="26" text-anchor="end">2.0</text>
<rect x="806" y="592.4" width="4.4" height="15.2" fill="#000"/>
<text x="819.9" y="632.1" font-size="26.3" text-anchor="middle">OGT</text>
<rect x="997.4" y="592.4" width="4.4" height="15.2" fill="#000"/>
<text x="1008" y="632.1" font-size="26.3" text-anchor="middle">KEAP1</text>
<rect x="1188.6" y="592.4" width="4.4" height="15.2" fill="#000"/>
<text x="1196.1" y="632.1" font-size="26.3" text-anchor="middle">NRF2</text>
<text x="0" y="0" font-size="29.46" text-anchor="middle" transform="translate(645.2 406.4) rotate(-90)">Relative protein expression</text>
<text x="772.78" y="429.78" font-size="30.5" text-anchor="start" fill="#231815" stroke="#231815" stroke-width="0.45">*</text>
<text x="803.88" y="445.28" font-size="30.5" text-anchor="start" fill="#231815" stroke="#231815" stroke-width="0.45">*</text>
<text x="837.88" y="438.18" font-size="30.5" text-anchor="start" fill="#231815" stroke="#231815" stroke-width="0.45">*</text>
<text x="871.78" y="430.48" font-size="30.5" text-anchor="start" fill="#231815" stroke="#231815" stroke-width="0.45">*</text>
<text x="964.08" y="464.58" font-size="30.5" text-anchor="start" fill="#231815" stroke="#231815" stroke-width="0.45">*</text>
<text x="997.88" y="455.18" font-size="30.5" text-anchor="start" fill="#231815" stroke="#231815" stroke-width="0.45">*</text>
<text x="1031.98" y="466.58" font-size="30.5" text-anchor="start" fill="#231815" stroke="#231815" stroke-width="0.45">*</text>
<text x="1066.68" y="464.18" font-size="30.5" text-anchor="start" fill="#231815" stroke="#231815" stroke-width="0.45">*</text>
<text x="1154.28" y="522.68" font-size="30.5" text-anchor="start" fill="#231815" stroke="#231815" stroke-width="0.45">*</text>
<text x="1223.18" y="520.08" font-size="30.5" text-anchor="start" fill="#231815" stroke="#231815" stroke-width="0.45">*</text>
<text x="1181.63" y="542.22" font-size="36" text-anchor="start" fill="#231815" stroke="#231815" stroke-width="0.45">#</text>
<rect x="753.8" y="81.9" width="34.9" height="15.5" fill="url(#p23)" stroke="#000" stroke-width="3.2"/>
<text x="802.5" y="101.5" font-size="26.68" text-anchor="start">sh-NC + DMSO</text>
<rect x="753.8" y="115" width="34.9" height="15.3" fill="url(#p24)" stroke="#000" stroke-width="3.2"/>
<text x="802.5" y="132.8" font-size="26.68" text-anchor="start">sh-OGT + DMSO</text>
<rect x="753.8" y="146.8" width="34.9" height="15.3" fill="url(#p25)" stroke="#000" stroke-width="3.2"/>
<text x="802.5" y="164.1" font-size="26.68" text-anchor="start">sh-OGT + sh-NRF2 + DMSO</text>
<rect x="753.8" y="178.9" width="34.9" height="15" fill="url(#p26)" stroke="#000" stroke-width="3.2"/>
<text x="802.5" y="195.4" font-size="26.68" text-anchor="start">sh-OGT + Baf-A1</text>
<rect x="753.8" y="210.8" width="34.9" height="15.5" fill="url(#p27)" stroke="#000" stroke-width="3.2"/>
<text x="802.5" y="226.7" font-size="26.68" text-anchor="start">sh-OGT + sh-NRF2 + RAPA</text>
<rect x="1458.6" y="502" width="31.3" height="85.6" fill="url(#p28)" stroke="#000" stroke-width="2.8"/>
<rect x="1473.45" y="487.4" width="1.6" height="14.6" fill="#000"/>
<rect x="1465.75" y="486.6" width="17" height="1.6" fill="#000"/>
<rect x="1510.3" y="427.6" width="31.4" height="160" fill="url(#p29)" stroke="#000" stroke-width="2.8"/>
<rect x="1525.2" y="398.4" width="1.6" height="29.2" fill="#000"/>
<rect x="1517.5" y="397.6" width="17" height="1.6" fill="#000"/>
<rect x="1561.7" y="503.4" width="30.7" height="84.2" fill="url(#p30)" stroke="#000" stroke-width="2.8"/>
<rect x="1576.25" y="489" width="1.6" height="14.4" fill="#000"/>
<rect x="1568.55" y="488.2" width="17" height="1.6" fill="#000"/>
<rect x="1613" y="502.7" width="31.2" height="84.9" fill="url(#p31)" stroke="#000" stroke-width="2.8"/>
<rect x="1627.8" y="487.4" width="1.6" height="15.3" fill="#000"/>
<rect x="1620.1" y="486.6" width="17" height="1.6" fill="#000"/>
<rect x="1664.2" y="441.6" width="31.5" height="146" fill="url(#p32)" stroke="#000" stroke-width="2.8"/>
<rect x="1679.15" y="414.7" width="1.6" height="26.9" fill="#000"/>
<rect x="1671.45" y="413.9" width="17" height="1.6" fill="#000"/>
<rect x="1749.7" y="344.7" width="30.9" height="242.9" fill="url(#p33)" stroke="#000" stroke-width="2.8"/>
<rect x="1764.35" y="317.9" width="1.6" height="26.8" fill="#000"/>
<rect x="1756.65" y="317.1" width="17" height="1.6" fill="#000"/>
<rect x="1801.1" y="460.6" width="30.4" height="127" fill="url(#p34)" stroke="#000" stroke-width="2.8"/>
<rect x="1815.5" y="443.9" width="1.6" height="16.7" fill="#000"/>
<rect x="1807.8" y="443.1" width="17" height="1.6" fill="#000"/>
<rect x="1851.7" y="356.6" width="30.9" height="231" fill="url(#p35)" stroke="#000" stroke-width="2.8"/>
<rect x="1866.35" y="327.1" width="1.6" height="29.5" fill="#000"/>
<rect x="1858.65" y="326.3" width="17" height="1.6" fill="#000"/>
<rect x="1903.5" y="344.2" width="30.6" height="243.4" fill="url(#p36)" stroke="#000" stroke-width="2.8"/>
<rect x="1918" y="317.2" width="1.6" height="27" fill="#000"/>
<rect x="1910.3" y="316.4" width="17" height="1.6" fill="#000"/>
<rect x="1954.6" y="440.8" width="30.9" height="146.8" fill="url(#p37)" stroke="#000" stroke-width="2.8"/>
<rect x="1969.25" y="421.3" width="1.6" height="19.5" fill="#000"/>
<rect x="1961.55" y="420.5" width="17" height="1.6" fill="#000"/>
<rect x="1438.9" y="243.6" width="4.8" height="346.4" fill="#000"/>
<rect x="1425.9" y="585.2" width="581.1" height="4.8" fill="#000"/>
<text x="1416" y="596" font-size="26" text-anchor="end">0.0</text>
<rect x="1425.9" y="499.8" width="15.4" height="4.8" fill="#000"/>
<text x="1416" y="508.85" font-size="26" text-anchor="end">0.5</text>
<rect x="1425.9" y="414.4" width="15.4" height="4.8" fill="#000"/>
<text x="1416" y="421.4" font-size="26" text-anchor="end">1.0</text>
<rect x="1425.9" y="329" width="15.4" height="4.8" fill="#000"/>
<text x="1416" y="334" font-size="26" text-anchor="end">1.5</text>
<rect x="1425.9" y="243.6" width="15.4" height="4.8" fill="#000"/>
<text x="1416" y="247.4" font-size="26" text-anchor="end">2.0</text>
<rect x="1574.6" y="587.6" width="4.6" height="14.9" fill="#000"/>
<text x="1574.2" y="629.7" font-size="26.5" text-anchor="middle">LC3 II/I</text>
<rect x="1865" y="587.6" width="4.6" height="14.9" fill="#000"/>
<text x="1866.4" y="629.7" font-size="26.5" text-anchor="middle">P62</text>
<text x="0" y="0" font-size="29.14" text-anchor="middle" transform="translate(1358 416.8) rotate(-90)">Relative protein expression</text>
<text x="1521.47" y="398.11" font-size="28.5" text-anchor="start" fill="#231815" stroke="#231815" stroke-width="0.45">*</text>
<text x="1573.94" y="477.7" font-size="34.5" text-anchor="start" fill="#231815" stroke="#231815" stroke-width="0.45">#</text>
<text x="1624.24" y="481.7" font-size="34.5" text-anchor="start" fill="#231815" stroke="#231815" stroke-width="0.45">#</text>
<text x="1672.98" y="411.27" font-size="34.5" text-anchor="start" fill="#231815" stroke="#231815" stroke-width="0.45">&amp;</text>
<text x="1814.17" y="446.71" font-size="28.5" text-anchor="start" fill="#231815" stroke="#231815" stroke-width="0.45">*</text>
<text x="1862.44" y="320" font-size="34.5" text-anchor="start" fill="#231815" stroke="#231815" stroke-width="0.45">#</text>
<text x="1913.14" y="312.9" font-size="34.5" text-anchor="start" fill="#231815" stroke="#231815" stroke-width="0.45">#</text>
<text x="1964.48" y="415.87" font-size="34.5" text-anchor="start" fill="#231815" stroke="#231815" stroke-width="0.45">&amp;</text>
<rect x="1466.8" y="81.9" width="34.1" height="15.8" fill="url(#p38)" stroke="#000" stroke-width="3.2"/>
<text x="1515.1" y="101.1" font-size="26.68" text-anchor="start">sh-NC + DMSO</text>
<rect x="1466.8" y="114.5" width="34.1" height="15.8" fill="url(#p39)" stroke="#000" stroke-width="3.2"/>
<text x="1515.1" y="132.3" font-size="26.68" text-anchor="start">sh-OGT + DMSO</text>
<rect x="1466.8" y="146.6" width="34.1" height="15.8" fill="url(#p40)" stroke="#000" stroke-width="3.2"/>
<text x="1515.1" y="164" font-size="26.68" text-anchor="start">sh-OGT + sh-NRF2 + DMSO</text>
<rect x="1466.8" y="178.6" width="34.1" height="15.5" fill="url(#p41)" stroke="#000" stroke-width="3.2"/>
<text x="1515.1" y="195.3" font-size="26.68" text-anchor="start">sh-OGT + Baf-A1</text>
<rect x="1466.8" y="210.8" width="34.1" height="15.5" fill="url(#p42)" stroke="#000" stroke-width="3.2"/>
<text x="1515.1" y="226.4" font-size="26.68" text-anchor="start">sh-OGT + sh-NRF2 + RAPA</text>
<rect x="733.6" y="1209.5" width="31.6" height="49.4" fill="url(#p43)" stroke="#000" stroke-width="2.8"/>
<rect x="748.6" y="1202.7" width="1.6" height="6.8" fill="#000"/>
<rect x="741.05" y="1201.9" width="16.7" height="1.6" fill="#000"/>
<rect x="784.8" y="1147.4" width="31.7" height="111.5" fill="url(#p44)" stroke="#000" stroke-width="2.8"/>
<rect x="799.85" y="1132.1" width="1.6" height="15.3" fill="#000"/>
<rect x="792.3" y="1131.3" width="16.7" height="1.6" fill="#000"/>
<rect x="836.3" y="1211.7" width="30.9" height="47.2" fill="url(#p45)" stroke="#000" stroke-width="2.8"/>
<rect x="850.95" y="1204.5" width="1.6" height="7.2" fill="#000"/>
<rect x="843.4" y="1203.7" width="16.7" height="1.6" fill="#000"/>
<rect x="887.5" y="1214.4" width="30.7" height="44.5" fill="url(#p46)" stroke="#000" stroke-width="2.8"/>
<rect x="902.05" y="1206.9" width="1.6" height="7.5" fill="#000"/>
<rect x="894.5" y="1206.1" width="16.7" height="1.6" fill="#000"/>
<rect x="938.3" y="1147.9" width="31.3" height="111" fill="url(#p47)" stroke="#000" stroke-width="2.8"/>
<rect x="953.15" y="1132.5" width="1.6" height="15.4" fill="#000"/>
<rect x="945.6" y="1131.7" width="16.7" height="1.6" fill="#000"/>
<rect x="1023.1" y="1052.7" width="30.8" height="206.2" fill="url(#p48)" stroke="#000" stroke-width="2.8"/>
<rect x="1037.7" y="1026.3" width="1.6" height="26.4" fill="#000"/>
<rect x="1030.15" y="1025.5" width="16.7" height="1.6" fill="#000"/>
<rect x="1074.4" y="1129.7" width="30.3" height="129.2" fill="url(#p49)" stroke="#000" stroke-width="2.8"/>
<rect x="1088.75" y="1118" width="1.6" height="11.7" fill="#000"/>
<rect x="1081.2" y="1117.2" width="16.7" height="1.6" fill="#000"/>
<rect x="1125.2" y="1013.2" width="30.4" height="245.7" fill="url(#p50)" stroke="#000" stroke-width="2.8"/>
<rect x="1139.6" y="982.9" width="1.6" height="30.3" fill="#000"/>
<rect x="1132.05" y="982.1" width="16.7" height="1.6" fill="#000"/>
<rect x="1176.5" y="1027.7" width="30.4" height="231.2" fill="url(#p51)" stroke="#000" stroke-width="2.8"/>
<rect x="1190.9" y="998.3" width="1.6" height="29.4" fill="#000"/>
<rect x="1183.35" y="997.5" width="16.7" height="1.6" fill="#000"/>
<rect x="1227.4" y="1137.7" width="30.2" height="121.2" fill="url(#p52)" stroke="#000" stroke-width="2.8"/>
<rect x="1241.7" y="1121.4" width="1.6" height="16.3" fill="#000"/>
<rect x="1234.15" y="1120.6" width="16.7" height="1.6" fill="#000"/>
<rect x="713.6" y="900.4" width="5.4" height="361.2" fill="#000"/>
<rect x="700.5" y="1256.2" width="578.9" height="5.4" fill="#000"/>
<text x="690.2" y="1264.2" font-size="26" text-anchor="end">0.0</text>
<rect x="700.5" y="1137.6" width="15.8" height="5.4" fill="#000"/>
<text x="690.2" y="1145.6" font-size="26" text-anchor="end">0.5</text>
<rect x="700.5" y="1019" width="15.8" height="5.4" fill="#000"/>
<text x="690.2" y="1027" font-size="26" text-anchor="end">1.0</text>
<rect x="700.5" y="900.4" width="15.8" height="5.4" fill="#000"/>
<text x="690.2" y="908.4" font-size="26" text-anchor="end">1.5</text>
<rect x="849" y="1258.9" width="4.8" height="16.3" fill="#000"/>
<text x="848" y="1303.4" font-size="26.5" text-anchor="middle">α-SMA</text>
<rect x="1138.2" y="1258.9" width="4.8" height="16.3" fill="#000"/>
<text x="1141" y="1303.4" font-size="26.5" text-anchor="middle">Runx2</text>
<text x="0" y="0" font-size="28.4" text-anchor="middle" transform="translate(638.1 1081.1) rotate(-90)">Relative protein expression</text>
<text x="798.97" y="1130.91" font-size="28.5" text-anchor="start" fill="#231815" stroke="#231815" stroke-width="0.45">*</text>
<text x="849.24" y="1199.2" font-size="34.5" text-anchor="start" fill="#231815" stroke="#231815" stroke-width="0.45">#</text>
<text x="898.14" y="1200.1" font-size="34.5" text-anchor="start" fill="#231815" stroke="#231815" stroke-width="0.45">#</text>
<text x="948.58" y="1124.07" font-size="34.5" text-anchor="start" fill="#231815" stroke="#231815" stroke-width="0.45">&amp;</text>
<text x="1087.07" y="1115.81" font-size="28.5" text-anchor="start" fill="#231815" stroke="#231815" stroke-width="0.45">*</text>
<text x="1134.84" y="976.2" font-size="34.5" text-anchor="start" fill="#231815" stroke="#231815" stroke-width="0.45">#</text>
<text x="1185.94" y="987.9" font-size="34.5" text-anchor="start" fill="#231815" stroke="#231815" stroke-width="0.45">#</text>
<text x="1236.18" y="1115.67" font-size="34.5" text-anchor="start" fill="#231815" stroke="#231815" stroke-width="0.45">&amp;</text>
<rect x="740.65" y="749.25" width="37.5" height="18" fill="url(#p53)" stroke="#000" stroke-width="3.3" stroke-linejoin="round"/>
<text x="799.4" y="768" font-size="26.68" text-anchor="start">sh-NC + DMSO</text>
<rect x="740.65" y="780.55" width="37.5" height="18.4" fill="url(#p54)" stroke="#000" stroke-width="3.3" stroke-linejoin="round"/>
<text x="799.4" y="799.4" font-size="26.68" text-anchor="start">sh-OGT + DMSO</text>
<rect x="740.65" y="811.85" width="37.5" height="18.3" fill="url(#p55)" stroke="#000" stroke-width="3.3" stroke-linejoin="round"/>
<text x="799.4" y="830.7" font-size="26.68" text-anchor="start">sh-OGT + sh-NRF2 + DMSO</text>
<rect x="740.65" y="843.25" width="37.5" height="18.2" fill="url(#p56)" stroke="#000" stroke-width="3.3" stroke-linejoin="round"/>
<text x="799.4" y="861.8" font-size="26.68" text-anchor="start">sh-OGT + Baf-A1</text>
<rect x="740.65" y="874.35" width="37.5" height="18.3" fill="url(#p57)" stroke="#000" stroke-width="3.3" stroke-linejoin="round"/>
<text x="799.4" y="893.5" font-size="26.68" text-anchor="start">sh-OGT + sh-NRF2 + RAPA</text>
<rect x="1476.3" y="977.8" width="67.3" height="276.2" fill="url(#p58)" stroke="#000" stroke-width="3"/>
<rect x="1508.15" y="958.8" width="3.6" height="19" fill="#000"/>
<rect x="1492.35" y="956.9" width="35.2" height="3.8" fill="#000"/>
<rect x="1581.7" y="1139.9" width="67.7" height="114.1" fill="url(#p59)" stroke="#000" stroke-width="3"/>
<rect x="1613.75" y="1125.9" width="3.6" height="14" fill="#000"/>
<rect x="1597.95" y="1124" width="35.2" height="3.8" fill="#000"/>
<rect x="1687.6" y="1003.7" width="67.1" height="250.3" fill="url(#p60)" stroke="#000" stroke-width="3"/>
<rect x="1719.35" y="976.7" width="3.6" height="27" fill="#000"/>
<rect x="1703.55" y="974.8" width="35.2" height="3.8" fill="#000"/>
<rect x="1793.5" y="991" width="67.2" height="263" fill="url(#p61)" stroke="#000" stroke-width="3"/>
<rect x="1825.3" y="967.9" width="3.6" height="23.1" fill="#000"/>
<rect x="1809.5" y="966" width="35.2" height="3.8" fill="#000"/>
<rect x="1898.9" y="1161.7" width="67.6" height="92.3" fill="url(#p62)" stroke="#000" stroke-width="3"/>
<rect x="1930.9" y="1147.9" width="3.6" height="13.8" fill="#000"/>
<rect x="1915.1" y="1146" width="35.2" height="3.8" fill="#000"/>
<rect x="1436.5" y="910.2" width="5.2" height="346.3" fill="#000"/>
<rect x="1424.7" y="1251.5" width="581.3" height="5" fill="#000"/>
<text x="1419.6" y="1262.2" font-size="25.5" text-anchor="end">0.0</text>
<rect x="1424.7" y="1166.4" width="14.4" height="4.4" fill="#000"/>
<text x="1419.6" y="1176.8" font-size="25.5" text-anchor="end">0.2</text>
<rect x="1424.7" y="1081" width="14.4" height="4.4" fill="#000"/>
<text x="1419.6" y="1091.4" font-size="25.5" text-anchor="end">0.4</text>
<rect x="1424.7" y="995.6" width="14.4" height="4.4" fill="#000"/>
<text x="1419.6" y="1006" font-size="25.5" text-anchor="end">0.6</text>
<rect x="1424.7" y="910.2" width="14.4" height="4.4" fill="#000"/>
<text x="1419.6" y="920.6" font-size="25.5" text-anchor="end">0.8</text>
<text transform="translate(1368.9 1187.4) rotate(-90)" font-size="28.5">Alizarin Red/cm<tspan font-size="21.7" dy="-11.8" dx="2.6">2</tspan></text>
<text x="1607.43" y="1130.94" font-size="47" text-anchor="start" font-weight="bold" fill="#231815">*</text>
<text x="1710.95" y="965.61" font-size="37" text-anchor="start" fill="#231815" stroke="#231815" stroke-width="0.45">#</text>
<text x="1817.75" y="955.51" font-size="37" text-anchor="start" fill="#231815" stroke="#231815" stroke-width="0.45">#</text>
<text x="1921.68" y="1131.87" font-size="34.5" text-anchor="start" fill="#231815" stroke="#231815" stroke-width="0.45">&amp;</text>
<rect x="1473.6" y="759.5" width="34.9" height="15" fill="url(#p63)" stroke="#000" stroke-width="3.2"/>
<text x="1522.3" y="777.9" font-size="26.68" text-anchor="start">sh-NC + DMSO</text>
<rect x="1473.6" y="790.9" width="34.9" height="15.8" fill="url(#p64)" stroke="#000" stroke-width="3.2"/>
<text x="1522.3" y="809.2" font-size="26.68" text-anchor="start">sh-OGT + DMSO</text>
<rect x="1473.6" y="823.5" width="34.9" height="15.2" fill="url(#p65)" stroke="#000" stroke-width="3.2"/>
<text x="1522.3" y="840.3" font-size="26.68" text-anchor="start">sh-OGT + sh-NRF2 + DMSO</text>
<rect x="1473.6" y="855.5" width="34.9" height="15.5" fill="url(#p66)" stroke="#000" stroke-width="3.2"/>
<text x="1522.3" y="871.7" font-size="26.68" text-anchor="start">sh-OGT + Baf-A1</text>
<rect x="1473.6" y="887.2" width="34.9" height="15.8" fill="url(#p67)" stroke="#000" stroke-width="3.2"/>
<text x="1522.3" y="903.2" font-size="26.68" text-anchor="start">sh-OGT + sh-NRF2 + RAPA</text>
</svg>
</body></html>
